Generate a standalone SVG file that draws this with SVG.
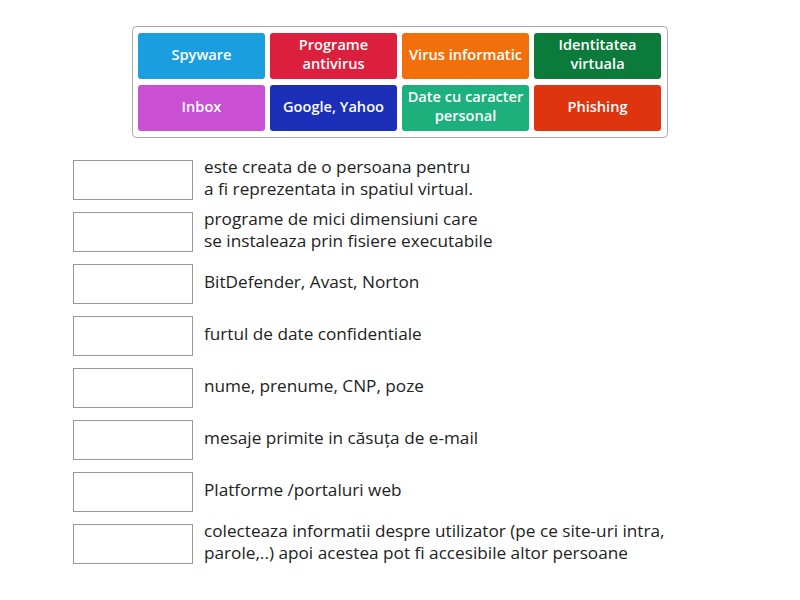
<svg xmlns="http://www.w3.org/2000/svg" width="800" height="600" viewBox="0 0 800 600">
<style>
.t{font-family:"Open Sans",sans-serif;font-size:14.6px;font-weight:600;fill:#fff;text-anchor:middle}
.q{font-family:"Open Sans",sans-serif;font-size:17.2px;fill:#222}
.b{fill:#fff;stroke:#999;stroke-width:1}
.tile{rx:3}
</style>
<rect width="800" height="600" fill="#fff"/>
<rect x="132.5" y="26.5" width="535" height="111" rx="4" fill="#fff" stroke="#aaa"/>
<g id="n1"><rect class="tile" x="138" y="33" width="127" height="46" fill="#1a9ee0"/><text class="t" x="201.5" y="60">Spyware</text></g>
<g id="n2"><rect class="tile" x="270" y="33" width="127" height="46" fill="#dc1f3c"/><text class="t" x="333.5" y="50">Programe</text><text class="t" x="333.5" y="69">antivirus</text></g>
<g id="n3"><rect class="tile" x="402" y="33" width="127" height="46" fill="#f2700c"/><text class="t" x="465.5" y="60">Virus informatic</text></g>
<g id="n4"><rect class="tile" x="534" y="33" width="127" height="46" fill="#0c7a3a"/><text class="t" x="597.5" y="50">Identitatea</text><text class="t" x="597.5" y="69">virtuala</text></g>
<g id="n5"><rect class="tile" x="138" y="85" width="127" height="46" fill="#c94fd3"/><text class="t" x="201.5" y="112">Inbox</text></g>
<g id="n6"><rect class="tile" x="270" y="85" width="127" height="46" fill="#1b2fb8"/><text class="t" x="333.5" y="112">Google, Yahoo</text></g>
<g id="n7"><rect class="tile" x="402" y="85" width="127" height="46" fill="#1cb07c"/><text class="t" x="465.5" y="102">Date cu caracter</text><text class="t" x="465.5" y="121">personal</text></g>
<g id="n8"><rect class="tile" x="534" y="85" width="127" height="46" fill="#de3410"/><text class="t" x="597.5" y="112">Phishing</text></g>
<g id="answers">
<rect class="b" x="73.5" y="160.5" width="119" height="39"/>
<rect class="b" x="73.5" y="212.5" width="119" height="39"/>
<rect class="b" x="73.5" y="264.5" width="119" height="39"/>
<rect class="b" x="73.5" y="316.5" width="119" height="39"/>
<rect class="b" x="73.5" y="368.5" width="119" height="39"/>
<rect class="b" x="73.5" y="420.5" width="119" height="39"/>
<rect class="b" x="73.5" y="472.5" width="119" height="39"/>
<rect class="b" x="73.5" y="524.5" width="119" height="39"/>
</g>
<g id="clues">
<text class="q" x="204" y="173">este creata de o persoana pentru</text>
<text class="q" x="204" y="195">a fi reprezentata in spatiul virtual.</text>
<text class="q" x="204" y="225">programe de mici dimensiuni care</text>
<text class="q" x="204" y="247">se instaleaza prin fisiere executabile</text>
<text class="q" x="204" y="288">BitDefender, Avast, Norton</text>
<text class="q" x="204" y="340">furtul de date confidentiale</text>
<text class="q" x="204" y="392">nume, prenume, CNP, poze</text>
<text class="q" x="204" y="444">mesaje primite in căsuța de e-mail</text>
<text class="q" x="204" y="496">Platforme /portaluri web</text>
<text class="q" x="204" y="537">colecteaza informatii despre utilizator (pe ce site-uri intra,</text>
<text class="q" x="204" y="559">parole,..) apoi acestea pot fi accesibile altor persoane</text>
</g>
</svg>
